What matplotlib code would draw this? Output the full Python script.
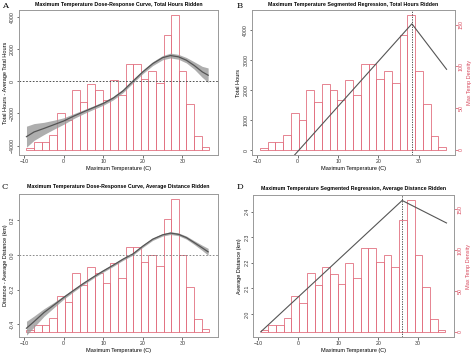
import numpy as np
import matplotlib
matplotlib.use('Agg')
import matplotlib.pyplot as plt

plt.rcParams['font.family'] = ['Liberation Sans', 'DejaVu Sans']

# histogram of daily maximum temperature (density units, shared by all panels)
bin_lo = -9.4
bin_hi = 36.8
temp_counts = [2, 9, 9, 17, 44, 36, 72, 57, 79, 71, 59, 84,
               66, 103, 103, 85, 94, 80, 137, 161, 94, 55, 16, 3]

# A: dose-response curve, total hours
curve_x = [-9.4, -7.5, -5, -2.5, 0, 2.5, 5, 7.5, 10, 12.5, 15, 17.5,
           20, 22.5, 25, 27, 29, 31, 33, 35, 36.5]
hours_fit = [-3440, -3150, -2930, -2700, -2470, -2170, -1900, -1640, -1380,
             -1050, -600, 0, 580, 1090, 1460, 1590, 1510, 1300, 970, 580, 370]
hours_se = [650, 520, 380, 280, 200, 150, 120, 110, 110, 110, 110, 110,
            110, 120, 130, 150, 150, 170, 230, 340, 450]

# C: dose-response curve, average distance
dist_fit = [-0.423, -0.385, -0.333, -0.29, -0.246, -0.205, -0.165, -0.128,
            -0.093, -0.06, -0.025, 0.005, 0.05, 0.09, 0.115, 0.125, 0.118,
            0.099, 0.07, 0.04, 0.017]
dist_se = [0.04, 0.032, 0.022, 0.015, 0.01, 0.008, 0.007, 0.007, 0.007, 0.007,
           0.007, 0.007, 0.007, 0.007, 0.007, 0.008, 0.008, 0.009, 0.011,
           0.015, 0.02]

# B / D: segmented regressions (start, breakpoint, end)
seg_hours_x = [-9.4, 28.3, 36.9]
seg_hours_y = [-1457, 4220, 2700]
seg_dist_x = [-9.4, 26.0, 37.1]
seg_dist_y = [1.930, 2.444, 2.356]

RED = '#d8485c'
EDGE = '#e27080'
FS = 3.8
LFS = 4.0
TFS = 3.8

xticks = [-10, 0, 10, 20, 30]
xlim = (-11.3, 39.0)


def style(ax):
    ax.set_xlim(*xlim)
    ax.set_xticks(xticks)
    ax.tick_params(labelsize=FS, length=1.8, width=0.5, pad=1.0, colors='#333333')
    for s in ax.spines.values():
        s.set_color('#999999')
        s.set_linewidth(0.7)
    for lab in ax.get_yticklabels():
        lab.set_rotation(90)
        lab.set_va('center')
    ax.set_xlabel('Maximum Temperature (C)', fontsize=LFS, labelpad=1.5)


def hist(ax, right_axis):
    hx = ax.twinx()
    edges = np.linspace(bin_lo, bin_hi, len(temp_counts) + 1)
    hx.bar(edges[:-1], temp_counts, width=np.diff(edges), align='edge',
           fill=False, edgecolor=EDGE, linewidth=0.6, zorder=1)
    top = max(temp_counts)
    hx.set_ylim(-0.04 * top, 1.04 * top)
    hx.set_xlim(*xlim)
    for s in hx.spines.values():
        s.set_visible(False)
    if right_axis:
        hx.set_yticks([0, 50, 100, 150])
        hx.tick_params(labelsize=FS, length=1.8, width=0.5, pad=1.0,
                       colors=RED)
        for lab in hx.get_yticklabels():
            lab.set_rotation(90)
            lab.set_va('center')
        hx.set_ylabel('Max Temp Density', fontsize=LFS, color=RED, labelpad=2)
    else:
        hx.set_yticks([])
    ax.set_zorder(hx.get_zorder() + 1)
    ax.patch.set_visible(False)
    return hx


fig = plt.figure(figsize=(4.74, 3.58), dpi=100)

# ---- A
axA = fig.add_axes([0.040, 0.567, 0.420, 0.405])
hist(axA, False)
lo = np.array(hours_fit) - np.array(hours_se)
hi = np.array(hours_fit) + np.array(hours_se)
axA.fill_between(curve_x, lo, hi, color='#9a9a9a', alpha=0.8, lw=0)
axA.plot(curve_x, hours_fit, color='#555555', lw=0.9)
axA.axhline(0, color='#333333', lw=0.6, ls=(0, (2, 2)))
axA.set_ylim(-4577, 4412)
axA.set_yticks([-4000, -2000, 0, 2000, 4000])
axA.set_ylabel('Total Hours - Average Total Hours', fontsize=LFS, labelpad=1.5)
axA.set_title('Maximum Temperature Dose-Response Curve, Total Hours Ridden',
              fontsize=TFS, fontweight='bold', pad=3)
style(axA)

# ---- B
axB = fig.add_axes([0.532, 0.567, 0.428, 0.405])
hist(axB, True)
axB.plot(seg_hours_x, seg_hours_y, color='#555555', lw=0.8)
axB.axvline(seg_hours_x[1], color='#333333', lw=0.6, ls=(0, (1.5, 1.5)))
axB.set_ylim(-160, 4680)
axB.set_yticks([0, 1000, 2000, 3000, 4000])
axB.set_ylabel('Total Hours', fontsize=LFS, labelpad=1.5)
axB.set_title('Maximum Temperature Segmented Regression, Total Hours Ridden',
              fontsize=TFS, fontweight='bold', pad=3)
style(axB)

# ---- C
axC = fig.add_axes([0.040, 0.058, 0.420, 0.400])
hist(axC, False)
lo = np.array(dist_fit) - np.array(dist_se)
hi = np.array(dist_fit) + np.array(dist_se)
axC.fill_between(curve_x, lo, hi, color='#9a9a9a', alpha=0.8, lw=0)
axC.plot(curve_x, dist_fit, color='#555555', lw=0.9)
axC.axhline(0, color='#777777', lw=0.6, ls=(0, (2, 2)))
axC.set_ylim(-0.475, 0.35)
axC.set_yticks([-0.4, -0.2, 0.0, 0.2])
axC.set_yticklabels(['-0.4', '-0.2', '0.0', '0.2'])
axC.set_ylabel('Distance - Average Distance (km)', fontsize=LFS, labelpad=1.5)
axC.set_title('Maximum Temperature Dose-Response Curve, Average Distance Ridden',
              fontsize=TFS, fontweight='bold', pad=4)
style(axC)

# ---- D
axD = fig.add_axes([0.534, 0.058, 0.424, 0.397])
hist(axD, True)
axD.plot(seg_dist_x, seg_dist_y, color='#555555', lw=0.8)
axD.axvline(seg_dist_x[1], color='#333333', lw=0.6, ls=(0, (1.5, 1.5)))
axD.set_ylim(1.909, 2.465)
axD.set_yticks([2.0, 2.1, 2.2, 2.3, 2.4])
axD.set_ylabel('Average Distance (km)', fontsize=LFS, labelpad=1.5)
axD.set_title('Maximum Temperature Segmented Regression, Average Distance Ridden',
              fontsize=TFS, fontweight='bold', pad=4)
style(axD)

for letter, x, y in [('A', 0.004, 0.995), ('B', 0.500, 0.995),
                     ('C', 0.004, 0.49), ('D', 0.500, 0.49)]:
    fig.text(x, y, letter, fontsize=6, family='DejaVu Serif', va='top')

fig.savefig('out.png', dpi=100)
